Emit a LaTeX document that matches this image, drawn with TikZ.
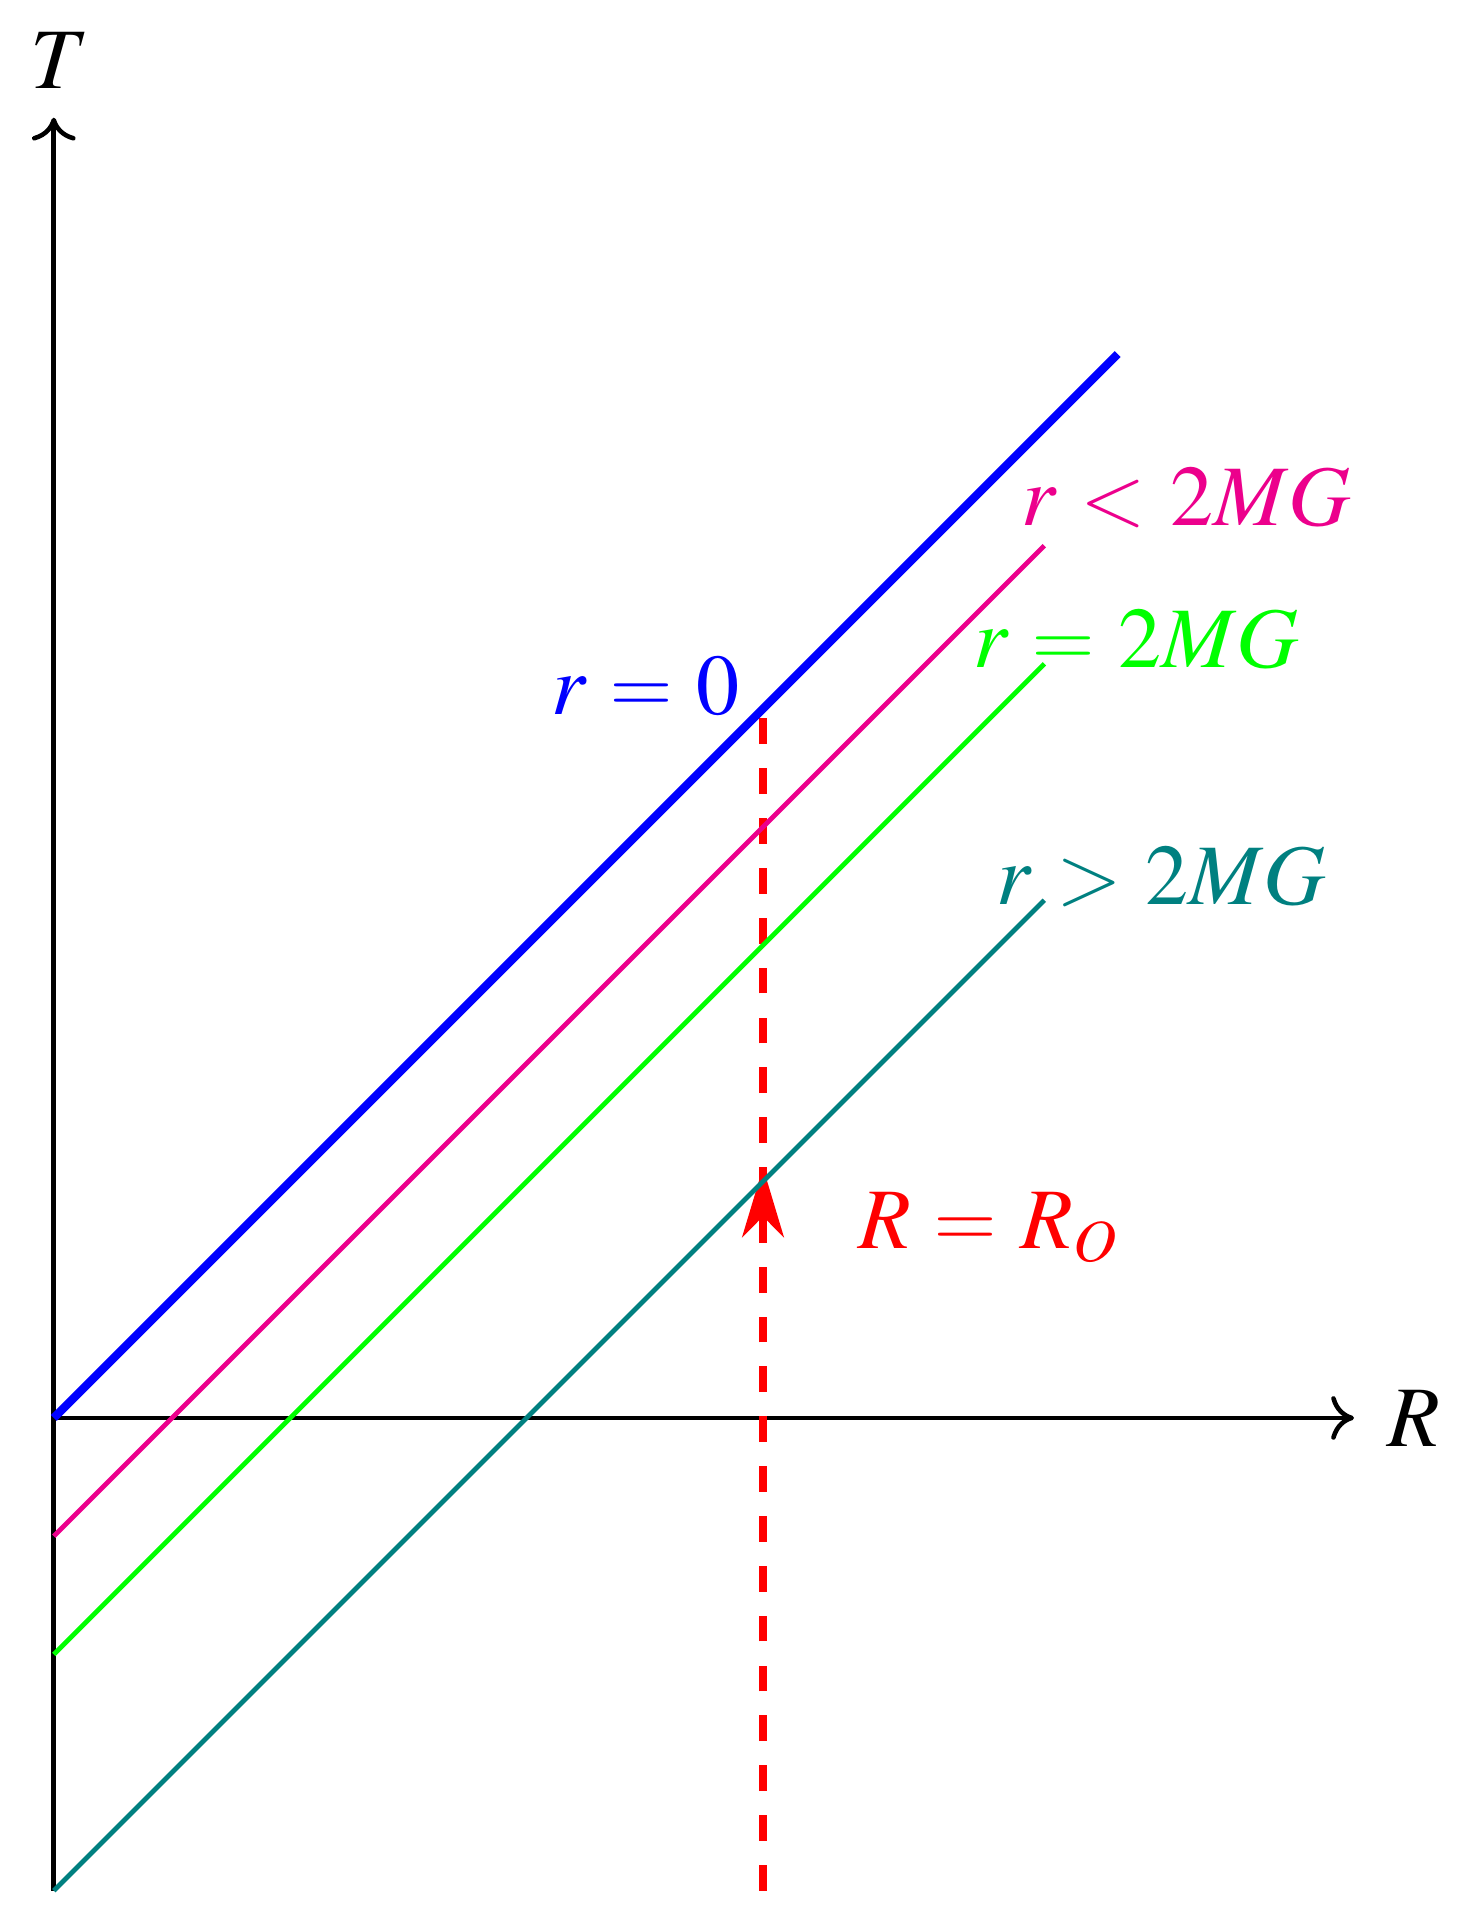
\documentclass[tikz,border=0pt]{standalone}
\usepackage{mathptmx}
\newcommand\cmeq{\mathrel{\hbox{\kern5.76pt\usefont{OT1}{cmr}{m}{n}=\kern5.76pt}}}
\newcommand\cmlt{\mathrel{\hbox{\kern5.76pt\usefont{OML}{cmm}{m}{it}<\kern5.76pt}}}
\newcommand\cmgt{\mathrel{\hbox{\kern5.76pt\usefont{OML}{cmm}{m}{it}>\kern5.76pt}}}
\thickmuskip=0mu
\usetikzlibrary{arrows.meta}
\definecolor{cmag}{cmyk}{0,1,0,0}
\definecolor{cgreen}{rgb}{0,1,0}
\definecolor{cteal}{rgb}{0,0.5,0.5}
\begin{document}
\begin{tikzpicture}[
  axisline/.style={line width=1.1pt,-{To[length=5.5pt,width=10.5pt]}},
  curveline/.style={line width=1.15pt},
  lbl/.style={inner sep=0pt,anchor=base west,font=\huge}
]
\useasboundingbox (-0.455,-4.222) rectangle (11.973,11.996);
% coordinates
\coordinate (O) at (0,0);
\coordinate (Tb) at (0,-4);
\coordinate (Tt) at (0,11);
\coordinate (Rr) at (11,0);
\coordinate (b0) at (0,0);   \coordinate (b1) at (9,9);
\coordinate (m0) at (0,-1);  \coordinate (m1) at (8.38,7.38);
\coordinate (g0) at (0,-2);  \coordinate (g1) at (8.38,6.38);
\coordinate (t0) at (0,-4);  \coordinate (t1) at (8.38,4.38);
\coordinate (d0) at (6,-4);  \coordinate (d1) at (6,6);
\coordinate (a0) at (6,1.5); \coordinate (a1) at (6,2.12);
% axes
\draw[axisline] (Tb) -- (Tt);
\draw[axisline] (O) -- (Rr);
% red dashed line
\draw[red,line width=1.9pt,dash pattern=on 6.2pt off 5.8pt] (d0) -- (d1);
\draw[red,line width=1.9pt,-{Stealth[length=16.8pt,width=10pt,inset=5pt]}] (a0) -- (a1);
% lines
\draw[blue,line width=2pt] (b0) -- (b1);
\draw[cmag,curveline] (m0) -- (m1);
\draw[cgreen,curveline] (g0) -- (g1);
\draw[cteal,curveline] (t0) -- (t1);
% labels
\node[lbl] (lT) at (-0.2,11.25) {$T$};
\node[lbl] (lR) at (11.28,-0.245) {$R$};
\node[lbl,text=blue] (l0) at (4.2,5.95) {$r\cmeq 0$};
\node[lbl,text=cmag] (l1) at (8.18,7.55) {$r\cmlt 2MG$};
\node[lbl,text=cgreen] (l2) at (7.77,6.35) {$r\cmeq 2MG$};
\node[lbl,text=cteal] (l3) at (7.97,4.34) {$r\cmgt 2MG$};
\node[lbl,text=red] (l4) at (6.8,1.43) {$R\cmeq R_O$};
\end{tikzpicture}
\end{document}
